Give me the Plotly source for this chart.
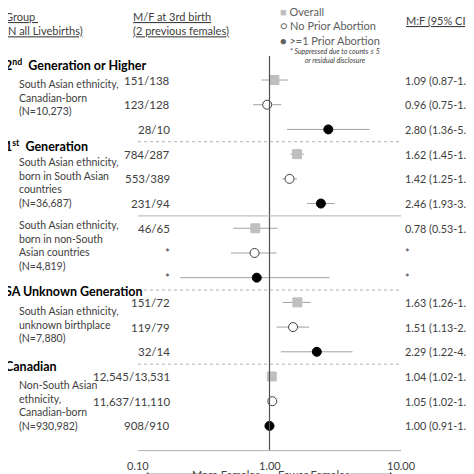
import plotly.graph_objects as go
import math

counts = ["151/138","123/128","28/10","784/287","553/389","231/94","46/65","*","*",
          "151/72","119/79","32/14","12,545/13,531","11,637/11,110","908/910"]
est  = [1.09,0.96,2.80,1.62,1.42,2.46,0.78,0.77,0.80,1.63,1.51,2.29,1.04,1.05,1.00]
low  = [0.87,0.75,1.36,1.45,1.25,1.93,0.53,0.51,0.21,1.26,1.13,1.22,1.02,1.02,0.91]
high = [1.38,1.23,5.76,1.82,1.62,3.12,1.15,1.13,2.86,2.05,2.00,4.28,1.07,1.08,1.09]
ci_labels = ["1.09 (0.87-1.38","0.96 (0.75-1.23","2.80 (1.36-5.76","1.62 (1.45-1.82",
             "1.42 (1.25-1.62","2.46 (1.93-3.12","0.78 (0.53-1.15","*","*",
             "1.63 (1.26-1.26","1.51 (1.13-2.00","2.29 (1.22-4.28","1.04 (1.02-1.07",
             "1.05 (1.02-1.08","1.00 (0.91-1.09"]
kinds = ["Overall","No Prior Abortion",">=1 Prior Abortion"]*5
headers = ["2<sup>nd</sup>  Generation or Higher","1<sup>st</sup>  Generation","SA Unknown Generation","Canadian"]
header_rows = [-0.62, 2.63, 8.54, 11.58]
groups = ["South Asian ethnicity,<br>Canadian-born<br>(N=10,273)",
          "South Asian ethnicity,<br>born in South Asian<br>countries<br>(N=36,687)",
          "South Asian ethnicity,<br>born in non-South<br>Asian countries<br>(N=4,819)",
          "South Asian ethnicity,<br>unknown birthplace<br>(N=7,880)",
          "Non-South Asian<br>ethnicity,<br>Canadian-born<br>(N=930,982)"]
group_rows = [0.69, 4.13, 6.7, 9.88, 13.16]
tick_vals = [0.1, 1, 10]
tick_text = ["0.10", "1.00", "10.00"]

styles = {"Overall": dict(symbol="square", color="#bfbfbf", line=dict(color="#bfbfbf", width=1)),
          "No Prior Abortion": dict(symbol="circle", color="white", line=dict(color="#404040", width=1)),
          ">=1 Prior Abortion": dict(symbol="circle", color="black", line=dict(color="black", width=1))}

fig = go.Figure()
rows = list(range(len(est)))
for k in styles:
    idx = [i for i in rows if kinds[i] == k]
    fig.add_trace(go.Scatter(
        x=[est[i] for i in idx], y=idx, mode="markers",
        marker=dict(size=9, **styles[k]),
        error_x=dict(type="data", symmetric=False,
                     array=[high[i]-est[i] for i in idx],
                     arrayminus=[est[i]-low[i] for i in idx],
                     color="#a0a0a0", thickness=1, width=0),
        showlegend=False))

FAM = "Lato, Liberation Sans"
font = dict(family=FAM, size=11, color="#404040")
ann = []
for i in rows:
    ann.append(dict(x=0.345, xref="paper", y=i, yref="y", text=counts[i], showarrow=False,
                    xanchor="right", font=dict(family=FAM, size=11.5, color="#404040")))
    ann.append(dict(x=0.833, xref="paper", y=i, yref="y", text=ci_labels[i], showarrow=False,
                    xanchor="left", font=dict(family=FAM, size=10.8, color="#404040")))
for t, r in zip(headers, header_rows):
    ann.append(dict(x=-0.01, xref="paper", y=r, yref="y", text="<b>"+t+"</b>", showarrow=False,
                    xanchor="left", font=dict(family=FAM, size=12.5, color="black")))
for t, r in zip(groups, group_rows):
    ann.append(dict(x=0.018, xref="paper", y=r, yref="y", text=t, showarrow=False, align="left",
                    xanchor="left", font=dict(family=FAM, size=10.5, color="#404040")))
for v, t in zip(tick_vals, tick_text):
    ann.append(dict(x=math.log10(v), xref="x", y=15.6, yref="y", text=t, showarrow=False, font=font))
ann += [
    dict(x=-0.01, xref="paper", y=-2.3, yref="y", text="<u>Group </u><br><u>(N all Livebirths)</u>",
         showarrow=False, xanchor="left", align="left", font=font),
    dict(x=0.26, xref="paper", y=-2.3, yref="y", text="<u>M/F at 3rd birth</u><br><u>(2 previous females)</u>",
         showarrow=False, xanchor="left", align="left", font=font),
    dict(x=0.835, xref="paper", y=-2.4, yref="y", text="<u>M:F (95% CI)</u>",
         showarrow=False, xanchor="left", font=font),
    dict(x=0.57, xref="paper", y=-2.2, yref="y",
         text="<span style='color:#bfbfbf'>■</span> Overall<br>○ No Prior Abortion<br>● >=1 Prior Abortion",
         showarrow=False, xanchor="left", align="left", font=dict(family=FAM, size=11, color="#606060")),
    dict(x=0.69, xref="paper", y=-1.0, yref="y",
         text="<i>* Suppressed due to counts ≤ 5<br>or residual disclosure</i>",
         showarrow=False, xanchor="center", align="center", font=dict(family=FAM, size=7, color="#404040")),
    dict(x=math.log10(0.88), xref="x", y=15.95, yref="y", text="More Females", showarrow=False, xanchor="right", font=font),
    dict(x=math.log10(1.12), xref="x", y=15.95, yref="y", text="Fewer Females", showarrow=False, xanchor="left", font=font),
    dict(x=math.log10(0.115), xref="x", y=15.95, yref="y", ax=math.log10(0.33), ay=15.95, axref="x", ayref="y",
         text="", showarrow=True, arrowhead=1, arrowwidth=0.8, arrowcolor="#606060"),
    dict(x=math.log10(8.6), xref="x", y=15.95, yref="y", ax=math.log10(4.0), ay=15.95, axref="x", ayref="y",
         text="", showarrow=True, arrowhead=1, arrowwidth=0.8, arrowcolor="#606060"),
]

shapes = [dict(type="line", x0=1, x1=1, y0=-0.97, y1=15, xref="x", yref="y",
               line=dict(color="#505050", width=1.2))]
for r, d in [(2.5, "dot"), (5.5, "solid"), (8.5, "dot"), (11.5, "dot"), (15, "solid")]:
    shapes.append(dict(type="line", x0=0.1, x1=10, y0=r, y1=r, xref="x", yref="y",
                       line=dict(color="#b0b0b0", width=1, dash=d)))

fig.update_layout(width=474, height=474, margin=dict(l=0, r=0, t=0, b=0),
                  plot_bgcolor="white", paper_bgcolor="white",
                  xaxis=dict(type="log", range=[-1, 1], domain=[130/474, 393/474], visible=False),
                  yaxis=dict(range=[16.27, -2.915], visible=False),
                  annotations=ann, shapes=shapes)
fig.write_html("out.html")
